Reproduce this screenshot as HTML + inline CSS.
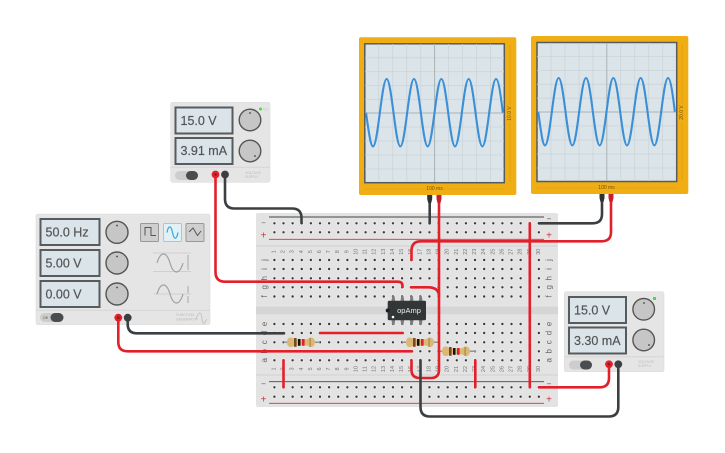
<!DOCTYPE html>
<html><head><meta charset="utf-8"><style>
html,body{margin:0;padding:0;background:#fff;width:725px;height:453px;overflow:hidden}
svg{display:block;font-family:"Liberation Sans",sans-serif}
.d{fill:#dbe5e9;stroke:#555b5e;stroke-width:2}
.t{font-size:12.5px;fill:#555;stroke:#555;stroke-width:.2}
.p{fill:#e5e5e5;stroke:#ddd;stroke-width:.6}
.k{fill:#c6c6c6;stroke:#555;stroke-width:1.4}
.h{stroke:#3a3a3a;stroke-width:2.4;stroke-linecap:round;stroke-dasharray:0 9.12;fill:none}
.hl{stroke:#ececec;stroke-width:4;stroke-linecap:round;stroke-dasharray:0 9.12;fill:none}
.n text{font-size:5.5px;fill:#777;text-anchor:middle;dominant-baseline:central}
.l text{font-size:8px;fill:#666;text-anchor:middle;dominant-baseline:central}
.r{fill:none;stroke:#e2202a;stroke-width:2.6;stroke-linecap:round}
.b{fill:none;stroke:#3c3f41;stroke-width:2.6;stroke-linecap:round}
.g{stroke:#ccd4d7;stroke-width:.8}
.gc{stroke:#aab2b5;stroke-width:1}
.s{fill:none;stroke:#3a8fd8;stroke-width:2.1}
.m{font-size:5px;fill:#6b5310;text-anchor:middle;dominant-baseline:central}
.o{stroke:#d99c10;stroke-width:.6}
.w{fill:none;stroke:#a0a0a0;stroke-width:1.2}
.x{font-size:3.5px;fill:#bbb}
</style></head><body>
<svg width="725" height="453" viewBox="0 0 725 453" xmlns="http://www.w3.org/2000/svg">
<rect width="725" height="453" fill="#fff"/>

<!-- Breadboard -->
<rect x="256" y="213" width="302" height="194" rx="2" fill="#e3e3e3"/>
<rect x="256" y="306.7" width="302" height="7.5" fill="#d5d5d5"/>
<line x1="256" y1="246" x2="558" y2="246" stroke="#d2d2d2"/>
<line x1="256" y1="375" x2="558" y2="375" stroke="#d2d2d2"/>
<line x1="269" y1="217" x2="544" y2="217" stroke="#444" stroke-width=".9"/>
<line x1="269" y1="239.3" x2="544" y2="239.3" stroke="#d6323a" stroke-width=".9"/>
<line x1="269" y1="381.7" x2="544" y2="381.7" stroke="#444" stroke-width=".9"/>
<line x1="269" y1="403.3" x2="544" y2="403.3" stroke="#d6323a" stroke-width=".9"/>
<path class="hl" d="M274.4 223.3H540M274.4 232.3H540M274.4 260H540M274.4 269H540M274.4 278.3H540M274.4 287.3H540M274.4 296.5H540M274.4 324H540M274.4 333H540M274.4 342.3H540M274.4 351.3H540M274.4 360.3H540M274.4 387.3H540M274.4 396.7H540"/>
<path class="h" d="M274.4 223.3H540M274.4 232.3H540M274.4 260H540M274.4 269H540M274.4 278.3H540M274.4 287.3H540M274.4 296.5H540M274.4 324H540M274.4 333H540M274.4 342.3H540M274.4 351.3H540M274.4 360.3H540M274.4 387.3H540M274.4 396.7H540"/>

<g class="l">
<text x="263.5" y="223" fill="#555">−</text><text x="263.5" y="236" style="fill:#d6323a;font-size:10px">+</text>
<text x="549" y="219" style="fill:#555">−</text><text x="549" y="236" style="fill:#d6323a;font-size:10px">+</text>
<text x="263.5" y="384" style="fill:#555">−</text><text x="263.5" y="400" style="fill:#d6323a;font-size:10px">+</text>
<text x="549" y="384" style="fill:#555">−</text><text x="549" y="400" style="fill:#d6323a;font-size:10px">+</text>
<text transform="translate(264.5,260) rotate(-90)">j</text><text transform="translate(264.5,269) rotate(-90)">i</text><text transform="translate(264.5,278.3) rotate(-90)">h</text><text transform="translate(264.5,287.3) rotate(-90)">g</text><text transform="translate(264.5,296.5) rotate(-90)">f</text>
<text transform="translate(264.5,324) rotate(-90)">e</text><text transform="translate(264.5,333) rotate(-90)">d</text><text transform="translate(264.5,342.3) rotate(-90)">c</text><text transform="translate(264.5,351.3) rotate(-90)">b</text><text transform="translate(264.5,360.3) rotate(-90)">a</text>
<text transform="translate(549,260) rotate(-90)">j</text><text transform="translate(549,269) rotate(-90)">i</text><text transform="translate(549,278.3) rotate(-90)">h</text><text transform="translate(549,287.3) rotate(-90)">g</text><text transform="translate(549,296.5) rotate(-90)">f</text>
<text transform="translate(549,324) rotate(-90)">e</text><text transform="translate(549,333) rotate(-90)">d</text><text transform="translate(549,342.3) rotate(-90)">c</text><text transform="translate(549,351.3) rotate(-90)">b</text><text transform="translate(549,360.3) rotate(-90)">a</text>
</g>
<g class="n">
<text transform="translate(274.4,251.7) rotate(-90)">1</text><text transform="translate(283.5,251.7) rotate(-90)">2</text><text transform="translate(292.6,251.7) rotate(-90)">3</text><text transform="translate(301.8,251.7) rotate(-90)">4</text><text transform="translate(310.9,251.7) rotate(-90)">5</text><text transform="translate(320,251.7) rotate(-90)">6</text><text transform="translate(329.1,251.7) rotate(-90)">7</text><text transform="translate(338.2,251.7) rotate(-90)">8</text><text transform="translate(347.4,251.7) rotate(-90)">9</text><text transform="translate(356.5,251.7) rotate(-90)">10</text><text transform="translate(365.6,251.7) rotate(-90)">11</text><text transform="translate(374.7,251.7) rotate(-90)">12</text><text transform="translate(383.8,251.7) rotate(-90)">13</text><text transform="translate(393,251.7) rotate(-90)">14</text><text transform="translate(402.1,251.7) rotate(-90)">15</text><text transform="translate(411.2,251.7) rotate(-90)">16</text><text transform="translate(420.3,251.7) rotate(-90)">17</text><text transform="translate(429.4,251.7) rotate(-90)">18</text><text transform="translate(438.6,251.7) rotate(-90)">19</text><text transform="translate(447.7,251.7) rotate(-90)">20</text><text transform="translate(456.8,251.7) rotate(-90)">21</text><text transform="translate(465.9,251.7) rotate(-90)">22</text><text transform="translate(475,251.7) rotate(-90)">23</text><text transform="translate(484.2,251.7) rotate(-90)">24</text><text transform="translate(493.3,251.7) rotate(-90)">25</text><text transform="translate(502.4,251.7) rotate(-90)">26</text><text transform="translate(511.5,251.7) rotate(-90)">27</text><text transform="translate(520.6,251.7) rotate(-90)">28</text><text transform="translate(529.8,251.7) rotate(-90)">29</text><text transform="translate(538.9,251.7) rotate(-90)">30</text>
<text transform="translate(274.4,369) rotate(-90)">1</text><text transform="translate(283.5,369) rotate(-90)">2</text><text transform="translate(292.6,369) rotate(-90)">3</text><text transform="translate(301.8,369) rotate(-90)">4</text><text transform="translate(310.9,369) rotate(-90)">5</text><text transform="translate(320,369) rotate(-90)">6</text><text transform="translate(329.1,369) rotate(-90)">7</text><text transform="translate(338.2,369) rotate(-90)">8</text><text transform="translate(347.4,369) rotate(-90)">9</text><text transform="translate(356.5,369) rotate(-90)">10</text><text transform="translate(365.6,369) rotate(-90)">11</text><text transform="translate(374.7,369) rotate(-90)">12</text><text transform="translate(383.8,369) rotate(-90)">13</text><text transform="translate(393,369) rotate(-90)">14</text><text transform="translate(402.1,369) rotate(-90)">15</text><text transform="translate(411.2,369) rotate(-90)">16</text><text transform="translate(420.3,369) rotate(-90)">17</text><text transform="translate(429.4,369) rotate(-90)">18</text><text transform="translate(438.6,369) rotate(-90)">19</text><text transform="translate(447.7,369) rotate(-90)">20</text><text transform="translate(456.8,369) rotate(-90)">21</text><text transform="translate(465.9,369) rotate(-90)">22</text><text transform="translate(475,369) rotate(-90)">23</text><text transform="translate(484.2,369) rotate(-90)">24</text><text transform="translate(493.3,369) rotate(-90)">25</text><text transform="translate(502.4,369) rotate(-90)">26</text><text transform="translate(511.5,369) rotate(-90)">27</text><text transform="translate(520.6,369) rotate(-90)">28</text><text transform="translate(529.8,369) rotate(-90)">29</text><text transform="translate(538.9,369) rotate(-90)">30</text>
</g>

<!-- opAmp -->
<g fill="#7d7d7d"><path d="M391.500 301l.7-5h2.300l.7 5v19l-.7 5h-2.300l-.7-5z"/><path d="M400.500 301l.7-5h2.300l.7 5v19l-.7 5h-2.300l-.7-5z"/><path d="M409.800 301l.7-5h2.300l.7 5v19l-.7 5h-2.300l-.7-5z"/><path d="M418.800 301l.7-5h2.300l.7 5v19l-.7 5h-2.300l-.7-5z"/></g>
<rect x="387.700" y="300.700" width="38.300" height="19.500" rx="1.500" fill="#333637"/>
<circle cx="387.700" cy="310.500" r="2" fill="#1f1f1f"/>
<circle cx="393" cy="317" r="1.300" fill="#fff"/>
<text x="409" y="313" font-size="7.500" fill="#eee" text-anchor="middle">opAmp</text>

<!-- Resistors -->
<g>
<path d="M283.500 342.300H320" stroke="#8f9497" stroke-width="1.500"/>
<path d="M292 337.500c3 0 3 1.700 5 1.700h11c2 0 2-1.700 4-1.700c3 0 4.500 2 4.500 4.800s-1.500 4.800-4.500 4.800c-2 0-2-1.700-4-1.700h-11c-2 0-2 1.700-5 1.700c-2.500 0-3.500-2.500-3.500-4.800s1-4.800 3.500-4.800z" transform="translate(-1.500,0)" fill="#dcb877"/>
<rect x="294" y="338" width="2.600" height="8.800" fill="#7b4a20"/><rect x="298" y="339" width="2.500" height="6.800" fill="#111"/><rect x="302" y="339" width="2.600" height="6.800" fill="#e2202a"/><rect x="309.500" y="338" width="1.300" height="8.800" fill="#a88d4d"/>
</g>
<g transform="translate(119,0)">
<path d="M283 342.300H320" stroke="#8f9497" stroke-width="1.500"/>
<path d="M292 337.500c3 0 3 1.700 5 1.700h11c2 0 2-1.700 4-1.700c3 0 4.500 2 4.500 4.800s-1.500 4.800-4.500 4.800c-2 0-2-1.700-4-1.700h-11c-2 0-2 1.700-5 1.700c-2.500 0-3.500-2.500-3.500-4.800s1-4.800 3.500-4.800z" transform="translate(-1.500,0)" fill="#dcb877"/>
<rect x="294" y="338" width="2.600" height="8.800" fill="#7b4a20"/><rect x="298" y="339" width="2.500" height="6.800" fill="#111"/><rect x="302" y="339" width="2.600" height="6.800" fill="#e2202a"/><rect x="309.500" y="338" width="1.300" height="8.800" fill="#a88d4d"/>
</g>
<g transform="translate(155,9)">
<path d="M283.600 342.300H321" stroke="#8f9497" stroke-width="1.500"/>
<path d="M292 337.500c3 0 3 1.700 5 1.700h11c2 0 2-1.700 4-1.700c3 0 4.500 2 4.500 4.800s-1.500 4.800-4.500 4.800c-2 0-2-1.700-4-1.700h-11c-2 0-2 1.700-5 1.700c-2.500 0-3.500-2.500-3.500-4.800s1-4.800 3.500-4.800z" transform="translate(-1.500,0)" fill="#dcb877"/>
<rect x="294" y="338" width="2.600" height="8.800" fill="#7b4a20"/><rect x="298" y="339" width="2.500" height="6.800" fill="#111"/><rect x="302" y="339" width="2.600" height="6.800" fill="#e2202a"/><rect x="309.500" y="338" width="1.300" height="8.800" fill="#a88d4d"/>
</g>

<!-- Function generator -->
<rect class="p" x="36" y="214" width="174" height="110.700" rx="2"/>
<line x1="36" y1="310.300" x2="210" y2="310.300" stroke="#d5d5d5"/>
<rect class="d" x="40.500" y="219" width="59" height="26"/><text class="t" x="45.500" y="236.500">50.0 Hz</text>
<rect class="d" x="40.500" y="250" width="59" height="26"/><text class="t" x="45.500" y="267.500">5.00 V</text>
<rect class="d" x="40.500" y="281" width="59" height="26"/><text class="t" x="45.500" y="298.500">0.00 V</text>
<circle class="k" cx="117" cy="232.300" r="11"/><circle cx="117" cy="225.500" r=".9" fill="#444"/>
<circle class="k" cx="117" cy="263" r="11"/><circle cx="117" cy="256.500" r=".9" fill="#444"/>
<circle class="k" cx="117" cy="294" r="11"/><circle cx="117" cy="287.500" r=".9" fill="#444"/>
<rect x="140.500" y="223.500" width="18" height="18" rx="1" fill="#cfcfcf" stroke="#999"/>
<path d="M145 235.500V227.500H151V235.500H156" fill="none" stroke="#555" stroke-width="1"/>
<rect x="163.500" y="223.500" width="18" height="18" rx="1" fill="#e3f1f7" stroke="#8cd0ee"/>
<path d="M167 232.500c1.500-7.500 4-7.500 5.500 0s4 7.500 5.500 0" fill="none" stroke="#28a9e0" stroke-width="1.200"/>
<rect x="186" y="223.500" width="18" height="18" rx="1" fill="#cfcfcf" stroke="#999"/>
<path d="M189 232L193 228L197.500 235.500L201 231" fill="none" stroke="#555" stroke-width="1"/>
<path d="M153 253H191M153 271.500H191" stroke="#cfcfcf" stroke-width="1"/>
<path class="w" d="M157 263c3.500-12 9.500-12 13 0s9.500 12 13 0"/>
<path d="M188 255v15" stroke="#a8a8a8"/>
<path d="M154 294H191" stroke="#cfcfcf"/>
<path class="w" d="M157 294c3.500-12 9.500-12 13 0s9.500 12 13 0"/>
<path d="M188 286v7M188 296v7" stroke="#a8a8a8"/>
<rect x="40" y="313" width="23" height="9" rx="4.500" fill="#cdcdcd"/><rect x="50.500" y="313" width="13" height="9" rx="4.500" fill="#4a4d4f"/>
<text class="x" x="43" y="319" style="fill:#555">Off</text>
<text class="x" x="176" y="316">FUNCTION</text><text class="x" x="176" y="320.500">GENERATOR</text>
<path d="M196 319c3-8 5-8 6 0s3 3 5 0" fill="none" stroke="#c5c5c5"/>

<!-- PSU 1 -->
<rect class="p" x="170.700" y="102.300" width="99.300" height="80" rx="2"/>
<line x1="170.700" y1="167.300" x2="270" y2="167.300" stroke="#d5d5d5"/>
<rect class="d" x="175.500" y="107.500" width="57" height="26"/><text class="t" x="180.500" y="125">15.0 V</text>
<rect class="d" x="175.500" y="138" width="57" height="26"/><text class="t" x="180.500" y="155">3.91 mA</text>
<circle class="k" cx="250" cy="120" r="10.800"/><circle cx="250" cy="113" r=".9" fill="#444"/>
<circle class="k" cx="250" cy="151" r="10.800"/><circle cx="255" cy="156" r=".9" fill="#444"/>
<circle cx="260.500" cy="109" r="1.500" fill="#3fe03f"/><text class="x" x="263" y="110.500">CC</text>
<rect x="175" y="171" width="23" height="9" rx="4.500" fill="#cdcdcd"/><rect x="186" y="171" width="12" height="9" rx="4.500" fill="#4a4d4f"/>
<text class="x" x="245" y="174">VOLTAGE</text><text class="x" x="245" y="178">SUPPLY</text>

<!-- PSU 2 -->
<rect class="p" x="564.300" y="291.700" width="99.700" height="80" rx="2"/>
<line x1="564.300" y1="356.700" x2="664" y2="356.700" stroke="#d5d5d5"/>
<rect class="d" x="569" y="297" width="57" height="26"/><text class="t" x="574" y="314.500">15.0 V</text>
<rect class="d" x="569" y="327.500" width="57" height="26"/><text class="t" x="574" y="345">3.30 mA</text>
<circle class="k" cx="643.700" cy="309.300" r="10.800"/><circle cx="644" cy="303" r=".9" fill="#444"/>
<circle class="k" cx="643.700" cy="340" r="10.800"/><circle cx="649" cy="345" r=".9" fill="#444"/>
<rect x="653" y="297" width="3" height="3" fill="#3fe03f"/>
<rect x="569" y="360.500" width="23" height="9" rx="4.500" fill="#cdcdcd"/><rect x="580" y="360.500" width="12" height="9" rx="4.500" fill="#4a4d4f"/>
<text class="x" x="638" y="363">VOLTAGE</text><text class="x" x="638" y="367">SUPPLY</text>

<!-- Oscilloscope 1 -->
<rect x="359" y="37.300" width="157.300" height="157.700" rx="2" fill="#f0ae14"/>
<rect x="364.800" y="43.800" width="139.500" height="138.900" fill="#dbe5e9" stroke="#555b5e" stroke-width="1.500"/>
<path class="g" d="M378.800 44V182M392.800 44V182M406.800 44V182M420.800 44V182M448.600 44V182M462.600 44V182M476.600 44V182M490.500 44V182M365 57.800H504M365 71.700H504M365 85.600H504M365 99.500H504M365 127H504M365 141H504M365 155H504M365 169H504"/>
<path class="gc" d="M434.600 44V182M365 113H504"/>
<path class="s" d="M366 112.700C368.500 130 370.500 146.400 373 146.400c5 0 8.700-67.400 13.670-67.400s8.690 67.400 13.670 67.400s8.690-67.400 13.670-67.400s8.690 67.400 13.670 67.400s8.690-67.400 13.670-67.400s8.690 67.400 13.670 67.400s8.690-67.400 13.670-67.400s8.690 67.400 13.670 67.400s8.690-67.400 13.670-67.400c2.500 0 4.700 16 6.800 33.700"/>
<path class="o" d="M365 189H426M443 189H504M510 45V105M510 123V182"/>
<text class="m" x="434.500" y="189">100 ms</text>
<text class="m" transform="translate(510,113.500) rotate(-90)">10.0 V</text>

<!-- Oscilloscope 2 -->
<rect x="531" y="36" width="157.300" height="158" rx="2" fill="#f0ae14"/>
<rect x="537" y="42.500" width="139.700" height="139" fill="#dbe5e9" stroke="#555b5e" stroke-width="1.500"/>
<path class="g" d="M551 43V181M565 43V181M579 43V181M593 43V181M620.700 43V181M634.700 43V181M648.700 43V181M662.700 43V181M537 56.500H676M537 70.400H676M537 84.300H676M537 98.200H676M537 126H676M537 140H676M537 154H676M537 168H676"/>
<path class="gc" d="M606.800 43V181M537 112H676"/>
<path class="s" d="M538.200 111.700C540.700 129 542.500 145.400 545 145.400c5 0 8.700-67.400 13.670-67.400s8.690 67.400 13.670 67.400s8.690-67.400 13.670-67.400s8.690 67.400 13.670 67.400s8.690-67.400 13.670-67.400s8.690 67.400 13.670 67.400s8.690-67.400 13.670-67.400s8.690 67.400 13.670 67.400s8.690-67.400 13.670-67.400c2.500 0 4.700 16 6.800 33.700"/>
<path class="o" d="M537 188H598M615 188H676M682 44V104M682 122V181"/>
<text class="m" x="606.500" y="188">100 ms</text>
<text class="m" transform="translate(682,112.500) rotate(-90)">20.0 V</text>

<!-- Wires -->
<path class="r" d="M215.500 175V272q0 9.700 9.700 9.700H398q4.500 0 4.500 4.500V287"/>
<path class="b" d="M225 175V199q0 9.500 9.500 9.500H292q9.500 0 9.500 9.500V223"/>
<path class="r" d="M118.300 318V342q0 9.300 9.300 9.300H412"/>
<path class="b" d="M127.700 318V324q0 9.300 9.300 9.300H284"/>
<path class="r" d="M320 333H402.700"/>
<path class="r" d="M283.500 360.300V387.300"/>
<path class="b" d="M429.700 200V223.300"/>
<path class="r" d="M439 200V370q0 8-8 8H420q-8.500 0-8.500-8V360.300"/>
<path class="r" d="M411 287.300H428q11 0 11 9"/>
<path class="b" d="M602 199V214q0 9.300-9.300 9.300H539"/>
<path class="r" d="M611 199V232q0 9.300-9.300 9.300H421q-9.500 0-9.500 9.500V260"/>
<path class="r" d="M529.800 223.300V387.300"/>
<path class="r" d="M475.300 360.300V387.300"/>
<path class="r" d="M609 365V378q0 9.300-9.300 9.300H539"/>
<path class="b" d="M618.300 365V407q0 9.500-9.500 9.500H430q-9.500 0-9.500-9.500V360.300"/>

<!-- Terminals -->
<g fill="#e2202a"><circle cx="215.500" cy="174.500" r="3.900"/><circle cx="118.300" cy="317.700" r="3.900"/><circle cx="609" cy="364.300" r="3.900"/></g>
<g fill="#3c3f41"><circle cx="225" cy="174.500" r="3.900"/><circle cx="127.700" cy="317.700" r="3.900"/><circle cx="618.300" cy="364.300" r="3.900"/></g>
<g fill="#8a1a1f"><circle cx="215.500" cy="174.500" r="1.300"/><circle cx="118.300" cy="317.700" r="1.300"/><circle cx="609" cy="364.300" r="1.300"/></g>
<path d="M427.200 195h5v4l-1 4h-3l-1-4zM599.500 194h5v4l-1 4h-3l-1-4z" fill="#2f3233"/>
<path d="M436.500 195h5v4l-1 4h-3l-1-4zM608.500 194h5v4l-1 4h-3l-1-4z" fill="#c8202a"/>
</svg>
</body></html>
